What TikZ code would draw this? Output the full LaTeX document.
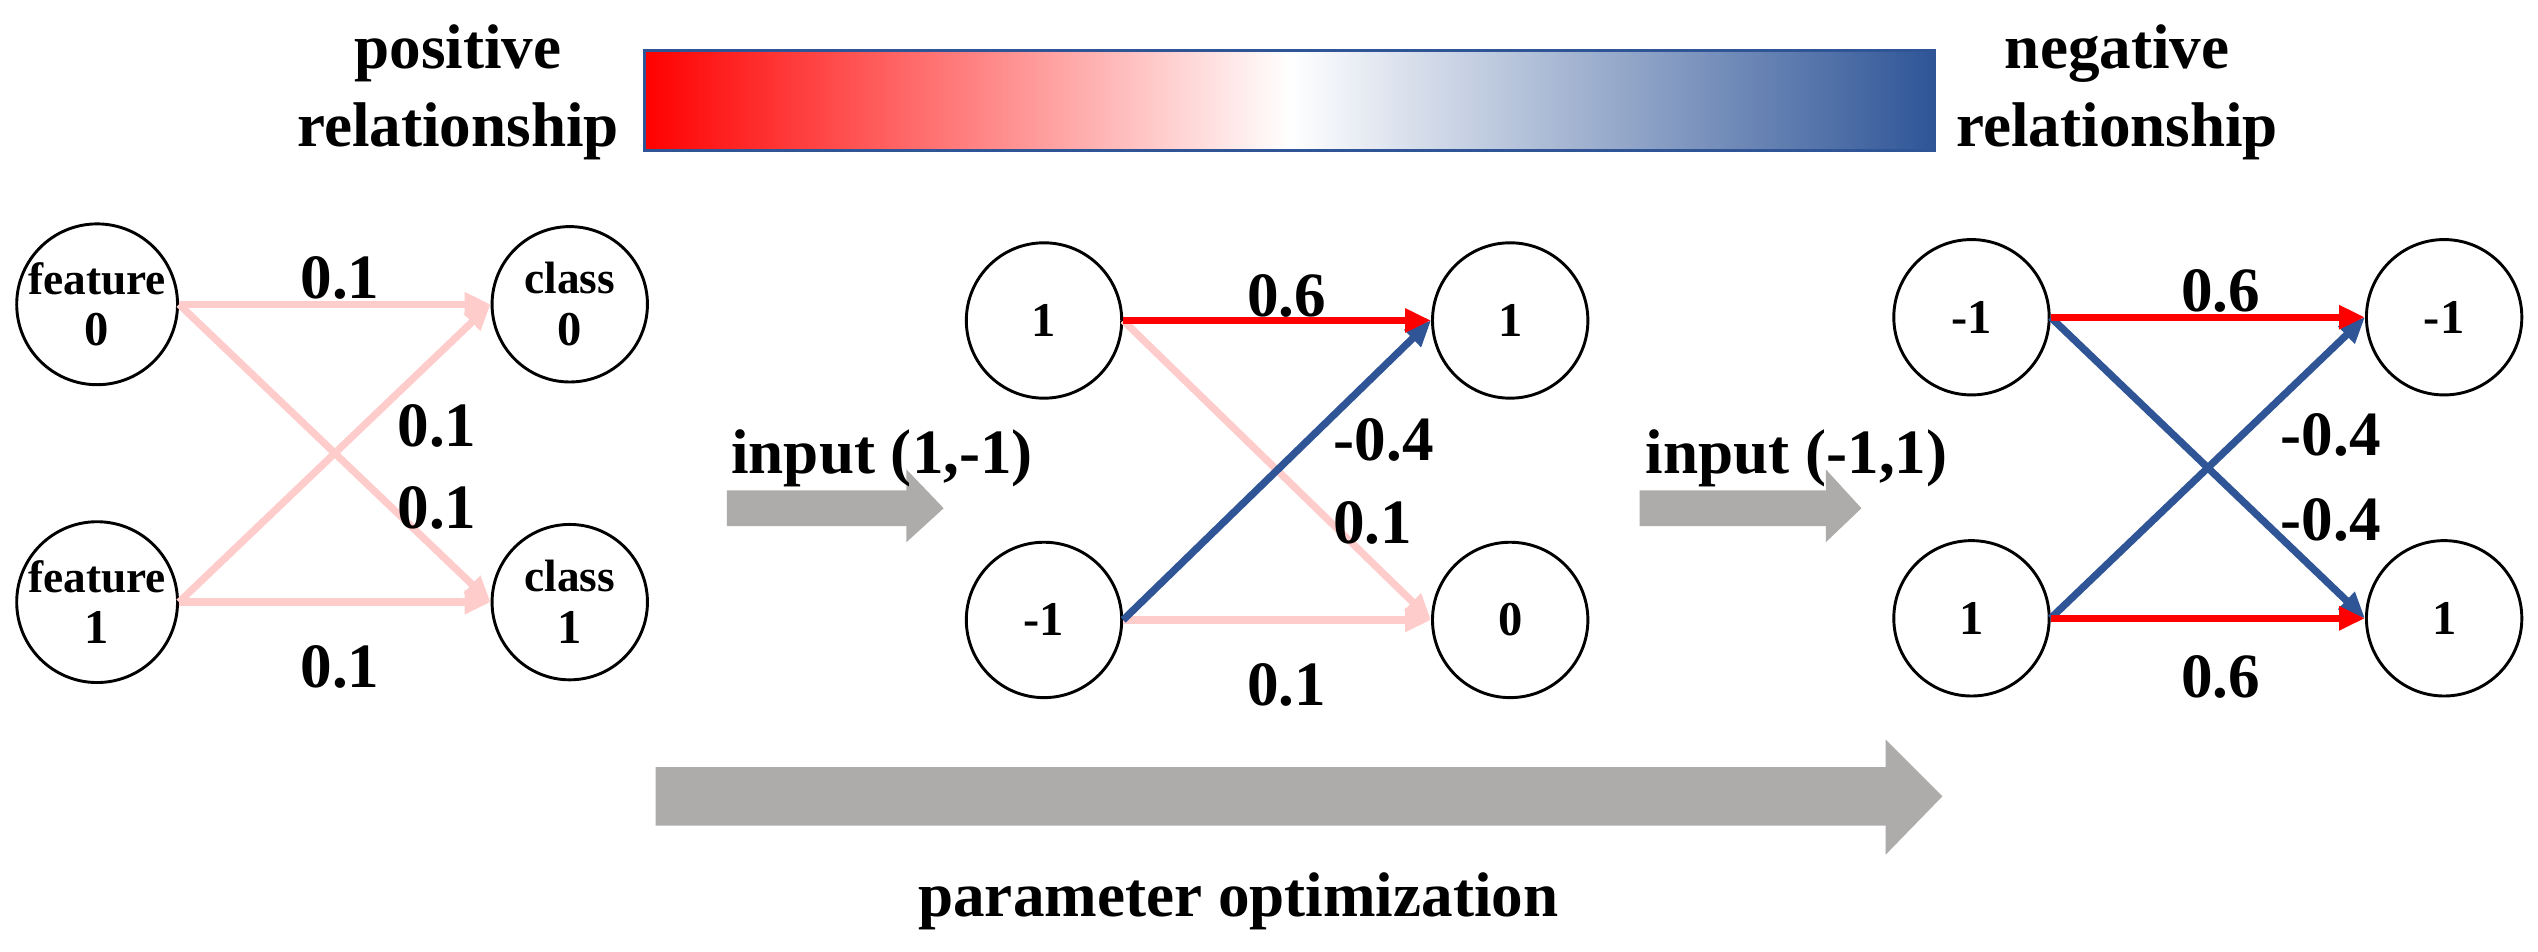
\documentclass[tikz,border=0pt]{standalone}
\usepackage{fontspec}
\setmainfont{Liberation Serif}
\usetikzlibrary{arrows.meta,shapes.arrows}
\definecolor{pk}{HTML}{FFCCCC}
\definecolor{rd}{HTML}{FF0000}
\definecolor{bl}{HTML}{2F5597}
\definecolor{gr}{HTML}{AEABAB}
\begin{document}
\begin{tikzpicture}[x=1pt,y=-1pt,
  nd/.style={circle,draw,line width=1.8pt,minimum size=96pt,inner sep=0pt,font=\bfseries\fontsize{30}{32}\selectfont,align=center},
  wt/.style={line width=4.5pt,-{Triangle[length=16pt,width=14pt]}},
  lb/.style={font=\bfseries\fontsize{39}{42}\selectfont,inner sep=0pt},
  gb/.style={fill=gr,draw=none}]
\useasboundingbox (0,0) rectangle (1568,588);
% colorbar
\shade[left color=rd,right color=white,middle color=rd!50!white] (398,31) rectangle (797,93);
\shade[left color=white,right color=bl] (797,31) rectangle (1195,93);
\draw[bl,line width=2pt] (398,31) rectangle (1195,93);
\node[lb] (pos) at (283,33) {positive};
\node[lb] (posr) at (283,81) {relationship};
\node[lb] (neg) at (1308,33) {negative};
\node[lb] (negr) at (1308,81) {relationship};
% left
\node[nd] (f0) at (60,188) {\fontsize{28}{36}\selectfont feature\\0};
\node[nd] (c0) at (352,188) {\fontsize{28}{36}\selectfont class\\0};
\node[nd] (f1) at (60,372) {\fontsize{28}{36}\selectfont feature\\1};
\node[nd] (c1) at (352,372) {\fontsize{28}{36}\selectfont class\\1};
\draw[wt,pk] (f0.east) -- (c0.west);
\draw[wt,pk] (f0.east) -- (c1.west);
\draw[wt,pk] (f1.east) -- (c0.west);
\draw[wt,pk] (f1.east) -- (c1.west);
\node[lb] (l1) at (210,172) {0.1};
\node[lb] (l2) at (270,263) {0.1};
\node[lb] (l3) at (270,314) {0.1};
\node[lb] (l4) at (210,412) {0.1};
% middle
\node[nd] (a0) at (645,198) {1};
\node[nd] (b0) at (933,198) {1};
\node[nd] (a1) at (645,383) {-1};
\node[nd] (b1) at (933,383) {0};
\draw[wt,pk] (a0.east) -- (b1.west);
\draw[wt,pk] (a1.east) -- (b1.west);
\draw[wt,bl] (a1.east) -- (b0.west);
\draw[wt,rd] (a0.east) -- (b0.west);
\node[lb] (m1) at (795,183) {0.6};
\node[lb] (m2) at (855,272) {-0.4};
\node[lb] (m3) at (848,323) {0.1};
\node[lb] (m4) at (795,423) {0.1};
% right
\node[nd] (p0) at (1218,196) {-1};
\node[nd] (q0) at (1510,196) {-1};
\node[nd] (p1) at (1218,382) {1};
\node[nd] (q1) at (1510,382) {1};
\draw[wt,bl] (p0.east) -- (q1.west);
\draw[wt,bl] (p1.east) -- (q0.west);
\draw[wt,rd] (p0.east) -- (q0.west);
\draw[wt,rd] (p1.east) -- (q1.west);
\node[lb] (r1) at (1372,180) {0.6};
\node[lb] (r2) at (1440,269) {-0.4};
\node[lb] (r3) at (1440,321) {-0.4};
\node[lb] (r4) at (1372,418) {0.6};
% gray arrows
\fill[gr] (449,303) -- (560,303) -- (560,290) -- (583,314) -- (560,335) -- (560,325) -- (449,325) -- cycle;
\fill[gr] (1013,303) -- (1128,303) -- (1128,290) -- (1150,314) -- (1128,335) -- (1128,325) -- (1013,325) -- cycle;
\fill[gr] (405,474) -- (1165,474) -- (1165,457) -- (1200,492) -- (1165,528) -- (1165,510) -- (405,510) -- cycle;
\node[lb] (in1) at (545,283) {input (1,-1)};
\node[lb] (in2) at (1110,283) {input (-1,1)};
\node[lb] (po) at (765,557) {parameter optimization};
\end{tikzpicture}
\end{document}
